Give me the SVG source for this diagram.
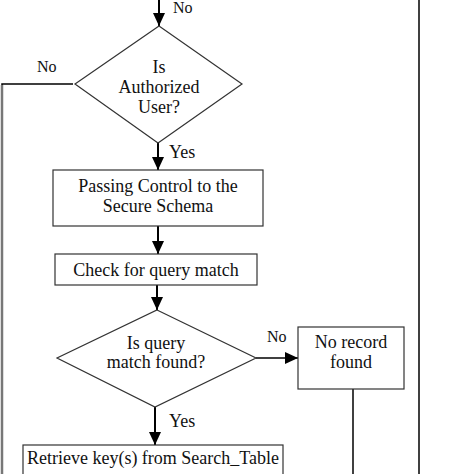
<svg xmlns="http://www.w3.org/2000/svg" width="474" height="474" viewBox="0 0 474 474">
<defs>
<marker id="ah" viewBox="0 0 13 12" refX="13" refY="6" markerWidth="13" markerHeight="12" markerUnits="userSpaceOnUse" orient="auto">
<path d="M0,0 L13,6 L0,12 Z" fill="#000"/>
</marker>
</defs>
<style>
.shape{fill:#fff;stroke:#333;stroke-width:1.2}
.t{font-family:"Liberation Serif","Times New Roman",serif;font-size:18px;fill:#111;text-anchor:middle}
.lbl{font-family:"Liberation Serif","Times New Roman",serif;font-size:16px;fill:#111}
.y{font-size:18px}
.c{fill:none;stroke:#000;stroke-width:2}
.cl{fill:none;stroke:#000;stroke-width:1.5}
</style>
<rect width="474" height="474" fill="#fff"/>
<g id="connectors">
<line class="c" x1="159" y1="0" x2="159" y2="26" marker-end="url(#ah)"/>
<polyline class="cl" points="73,84 2,84 2,474" />
<line x1="2" y1="85" x2="2" y2="474" stroke="#777" stroke-width="2.5"/>
<line class="cl" x1="419" y1="0" x2="419" y2="474"/>
<line class="c" x1="158" y1="143" x2="158" y2="170" marker-end="url(#ah)"/>
<line class="c" x1="158" y1="226" x2="158" y2="254" marker-end="url(#ah)"/>
<line class="c" x1="157" y1="285" x2="157" y2="310" marker-end="url(#ah)"/>
<line class="cl" x1="256" y1="358" x2="298" y2="358" marker-end="url(#ah)"/>
<line class="cl" x1="353" y1="389" x2="353" y2="474"/>
<line class="c" x1="155" y1="407" x2="155" y2="445" marker-end="url(#ah)"/>
<text class="lbl" x="173" y="13">No</text>
<text class="lbl" x="37" y="72">No</text>
<text class="lbl y" x="169" y="158">Yes</text>
<text class="lbl" x="267" y="342">No</text>
<text class="lbl y" x="169" y="427">Yes</text>
</g>
<g id="authorized">
<polygon class="shape" points="159,26 242,84 158,143 75,84"/>
<text class="t" x="159" y="73">Is</text>
<text class="t" x="159" y="93">Authorized</text>
<text class="t" x="159" y="113">User?</text>
</g>
<g id="passing">
<rect class="shape" x="53" y="170" width="210" height="56"/>
<text class="t" x="158" y="192">Passing Control to the</text>
<text class="t" x="158" y="212">Secure Schema</text>
</g>
<g id="check">
<rect class="shape" x="55" y="254" width="202" height="31"/>
<text class="t" x="156" y="276">Check for query match</text>
</g>
<g id="querymatch">
<polygon class="shape" points="157,310 256,358 155,407 57,358"/>
<text class="t" x="156" y="349">Is query</text>
<text class="t" x="156" y="368">match found?</text>
</g>
<g id="norecord">
<rect class="shape" x="298" y="327" width="106" height="62"/>
<text class="t" x="351" y="348">No record</text>
<text class="t" x="351" y="368">found</text>
</g>
<g id="retrieve">
<rect class="shape" x="23" y="445" width="260" height="40"/>
<text class="t" x="153" y="464">Retrieve key(s) from Search_Table</text>
</g>
</svg>
